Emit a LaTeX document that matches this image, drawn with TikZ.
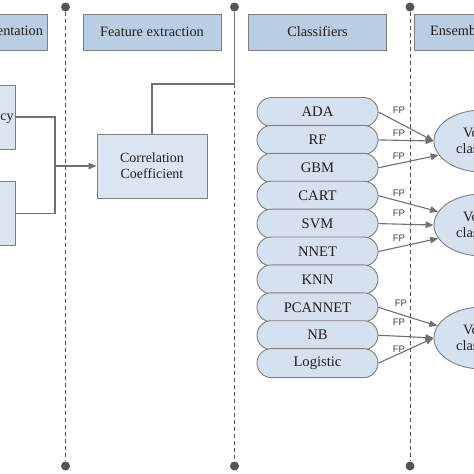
\documentclass[tikz,border=0pt]{standalone}
\usepackage{fontspec}
\setmainfont{Liberation Serif}
\newfontfamily\fpfont{Liberation Sans}
\usetikzlibrary{shapes.geometric,shapes.misc,arrows.meta}
\definecolor{hdrfill}{HTML}{B9CDE5}
\definecolor{boxfill}{HTML}{DCE6F2}
\definecolor{pillfill}{HTML}{D6E1EF}
\definecolor{edge}{HTML}{7F7F7F}
\definecolor{conn}{HTML}{707070}
\definecolor{dot}{HTML}{555555}
\definecolor{txt}{HTML}{1F1F1F}
\tikzset{
  hdr/.style={draw=edge, line width=0.9pt, fill=hdrfill, minimum width=138pt, minimum height=36pt, inner sep=0pt, font=\fontsize{14.3}{16}\selectfont, text=txt},
  lbox/.style={draw=edge, line width=0.9pt, fill=boxfill, minimum height=64pt, inner sep=0pt, font=\fontsize{14}{16}\selectfont, text=txt},
  pill/.style={rounded rectangle, draw=edge, line width=0.9pt, fill=pillfill, minimum width=121pt, minimum height=29pt, inner sep=0pt, font=\fontsize{14.6}{16}\selectfont, text=txt},
  vc/.style={ellipse, draw=edge, line width=0.9pt, fill=pillfill, minimum width=96pt, minimum height=62pt, inner sep=0pt, align=center, font=\fontsize{14.3}{16.5}\selectfont, text=txt},
  fp/.style={font=\fpfont\fontsize{9.5}{10}\selectfont, text=black!75, inner sep=0pt},
  dotn/.style={circle, fill=dot, minimum size=9pt, inner sep=0pt},
  sep/.style={draw=dot, line width=1pt, dash pattern=on 4pt off 3pt},
  conline/.style={draw=conn, line width=1.1pt},
  arr/.style={draw=conn, line width=1.1pt, -{Triangle[length=8pt,width=6.5pt]}},
}
\begin{document}
\begin{tikzpicture}[x=1pt,y=-1pt]
\useasboundingbox (0,0) rectangle (474,474);
\clip (0,0) rectangle (474,474);
\fill[white] (0,0) rectangle (474,474);
% separators
\node[dotn] (t1) at (65.5,7) {};
\node[dotn] (b1) at (65.5,466) {};
\node[dotn] (t2) at (234.5,7) {};
\node[dotn] (b2) at (234.5,466) {};
\node[dotn] (t3) at (410,7) {};
\node[dotn] (b3) at (410,466) {};
\coordinate (j) at (234.5,84);
\draw[sep] (t1) -- (b1);
\draw[sep] (j) -- (b2);
\draw[sep] (t3) -- (b3);
% headers
\node[hdr, text width=130pt, align=right] (h1) at (-22,32) {Segmentation};
\node[hdr] (h2) at (152,32) {Feature extraction};
\node[hdr] (h3) at (317.5,32) {Classifiers};
\node[hdr] (h4) at (483.5,32) {Ensemble learning};
% left boxes
\node[lbox, minimum width=90pt, text width=87pt, align=right] (f1) at (-30,117) {Frequency};
\node[lbox, minimum width=90pt] (f2) at (-30,213.5) {};
% correlation
\node[lbox, minimum width=110pt, align=center] (corr) at (152,166) {Correlation\\Coefficient};
\coordinate (m) at (55,166);
\draw[conline] (f1.east) -| (m) |- (f2.east);
\draw[arr] (m) -- (corr.west);
\draw[conline] (corr.north) |- (j) -- (t2);
% classifiers
\foreach \n/\t [count=\i from 0] in {ada/ADA,rf/RF,gbm/GBM,cart/CART,svm/SVM,nnet/NNET,knn/KNN,pca/PCANNET,nb/NB,logit/Logistic}{
  \node[pill] (\n) at (317.5,{112+27.9*\i}) {\t};
}
% voting classifiers
\node[vc] (v1) at (482,141) {Voting\\classifier};
\node[vc] (v2) at (482,225) {Voting\\classifier};
\node[vc] (v3) at (482,338) {Voting\\classifier};
% arrows
\draw[arr] (ada.east) -- (v1.west);
\draw[arr] (rf.east) -- (v1.west);
\draw[arr] (gbm.east) -- (v1.198);
\draw[arr] (cart.east) -- (v2.163);
\draw[arr] (svm.east) -- (v2.west);
\draw[arr] (nnet.east) -- (v2.197);
\draw[arr] (pca.east) -- (v3.165);
\draw[arr] (nb.east) -- (v3.west);
\draw[arr] (logit.east) -- (v3.west);
% FP labels
\node[fp] (fp1) at (399,110) {FP};
\node[fp] (fp2) at (399,133) {FP};
\node[fp] (fp3) at (399,156) {FP};
\node[fp] (fp4) at (399,193) {FP};
\node[fp] (fp5) at (399,213) {FP};
\node[fp] (fp6) at (399,238) {FP};
\node[fp] (fp7) at (401,303) {FP};
\node[fp] (fp8) at (399,322) {FP};
\node[fp] (fp9) at (399,349) {FP};
\end{tikzpicture}
\end{document}
